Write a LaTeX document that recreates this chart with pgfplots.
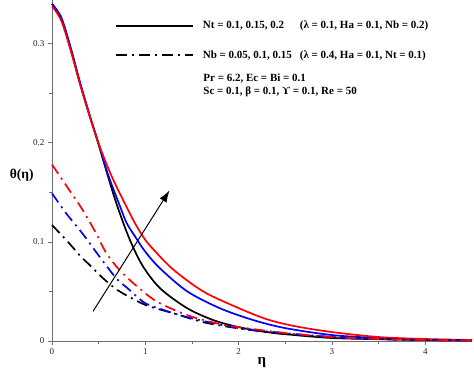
\documentclass[border=0pt]{standalone}
\usepackage{fontspec}
\setmainfont{Liberation Serif}
\usepackage{pgfplots}
\pgfplotsset{compat=1.18}
\usetikzlibrary{arrows.meta}
\definecolor{axgray}{RGB}{110,110,110}
\begin{document}
\begin{tikzpicture}
\useasboundingbox (-52pt,-39pt) rectangle (422pt,341pt);
\begin{axis}[
  at={(0,0)}, anchor=south west,
  scale only axis, width=420pt, height=341pt,
  xmin=0, xmax=4.5, ymin=0, ymax=0.344,
  axis lines=left, axis line style={-, axgray, line width=0.7pt},
  tick align=outside, tick style={axgray, line width=0.6pt},
  major tick length=4pt, minor tick length=3pt,
  xtick={0,1,2,3,4}, minor xtick={0.5,1.5,2.5,3.5},
  ytick={0,0.1,0.2,0.3}, minor ytick={0.05,0.15,0.25},
  /pgf/number format/assume math mode=true,
  tick label style={font=\fontsize{9}{10}\selectfont, text=black!85},
  xlabel={\textbf{η}},
  xlabel style={font=\fontsize{15}{17}\selectfont, at={(axis description cs:0.5,-0.062)}, anchor=center},
  ylabel={\textbf{θ(η)}},
  ylabel style={font=\fontsize{13.5}{15}\selectfont, rotate=-90, at={(axis description cs:-0.072,0.487)}, anchor=center},
  legend cell align=left,
  legend image code/.code={\draw[#1] (0pt,0pt) -- (77pt,0pt);},
  legend style={draw=none, fill=none, font=\fontsize{11}{13}\selectfont\bfseries,
    at={(axis cs:0.643,0.327)}, anchor=north west, row sep=16pt,
    /tikz/every odd column/.style={column sep=7pt}},
  clip=false,
]
% solid curves: Nt = 0.1 (black), 0.15 (blue), 0.2 (red)
\addplot[black, line width=1.7pt, smooth, tension=0.5] coordinates {
(0,0.340) (0.1,0.326) (0.2,0.295) (0.3,0.260) (0.4,0.228) (0.5,0.198) (0.6,0.166)
(0.7,0.136) (0.83,0.103) (0.97,0.076) (1.16,0.053) (1.45,0.033) (1.73,0.021)
(2.0,0.014) (2.3,0.009) (2.6,0.006) (3.0,0.003) (3.5,0.0018) (4.0,0.001) (4.5,0.0005)};
\addlegendentry{\makebox[97pt][l]{Nt = 0.1, 0.15, 0.2}(λ = 0.1, Ha = 0.1, Nb = 0.2)}
\addplot[blue, line width=1.7pt, smooth, tension=0.5, forget plot] coordinates {
(0,0.340) (0.1,0.326) (0.2,0.296) (0.3,0.261) (0.4,0.229) (0.5,0.199) (0.6,0.168)
(0.72,0.138) (0.8,0.119) (0.9,0.104) (1.0,0.090) (1.16,0.073) (1.45,0.050)
(1.8,0.033) (2.16,0.021) (2.5,0.013) (3.0,0.006) (3.5,0.003) (4.0,0.0015) (4.5,0.001)};
\addplot[red, line width=1.7pt, smooth, tension=0.5, forget plot] coordinates {
(0,0.338) (0.1,0.323) (0.2,0.293) (0.3,0.259) (0.4,0.228) (0.5,0.199) (0.64,0.166)
(0.8,0.135) (0.9,0.117) (1.0,0.102) (1.1,0.091) (1.3,0.072) (1.62,0.050)
(1.98,0.034) (2.3,0.022) (2.6,0.015) (3.0,0.009) (3.5,0.004) (4.0,0.002) (4.5,0.001)};
% dash-dot curves: Nb = 0.05 (black), 0.1 (blue), 0.15 (red)
\addplot[black, line width=1.7pt, smooth, tension=0.5, dash pattern=on 11pt off 5pt on 2pt off 5pt] coordinates {
(0,0.117) (0.18,0.099) (0.31,0.085) (0.4,0.077) (0.55,0.063) (0.69,0.052) (0.76,0.048)
(1.01,0.036) (1.3,0.028) (1.62,0.019) (1.98,0.013) (2.5,0.007) (3.0,0.004)
(3.5,0.002) (4.0,0.001) (4.5,0.0006)};
\addlegendentry{\makebox[97pt][l]{Nb = 0.05, 0.1, 0.15}(λ = 0.4, Ha = 0.1, Nt = 0.1)}
\addplot[blue, line width=1.7pt, smooth, tension=0.5, dash pattern=on 11pt off 5pt on 2pt off 5pt, forget plot] coordinates {
(0,0.149) (0.15,0.129) (0.33,0.108) (0.51,0.085) (0.69,0.063) (0.8,0.054)
(0.97,0.040) (1.08,0.035) (1.45,0.024) (2.0,0.013) (2.5,0.008) (3.0,0.004)
(3.5,0.002) (4.0,0.001) (4.5,0.0006)};
\addplot[red, line width=1.7pt, smooth, tension=0.5, dash pattern=on 11pt off 5pt on 2pt off 5pt, forget plot] coordinates {
(0,0.178) (0.18,0.153) (0.33,0.132) (0.47,0.109) (0.58,0.089) (0.72,0.072)
(0.9,0.056) (1.12,0.040) (1.45,0.026) (1.8,0.017) (2.0,0.014) (2.5,0.008)
(3.0,0.004) (3.5,0.002) (4.0,0.001) (4.5,0.0006)};
\node[anchor=west, align=left, font=\fontsize{11}{13}\selectfont\bfseries, inner sep=0pt]
  at (axis cs:1.62,0.258) {Pr = 6.2, Ec = Bi = 0.1\\Sc = 0.1, β = 0.1, ϒ = 0.1, Re = 50};
\draw[-{Latex[length=12pt,width=8pt]}, line width=1pt, black]
  (axis cs:0.44,0.030) -- (axis cs:1.26,0.152);
\end{axis}
\end{tikzpicture}
\end{document}
